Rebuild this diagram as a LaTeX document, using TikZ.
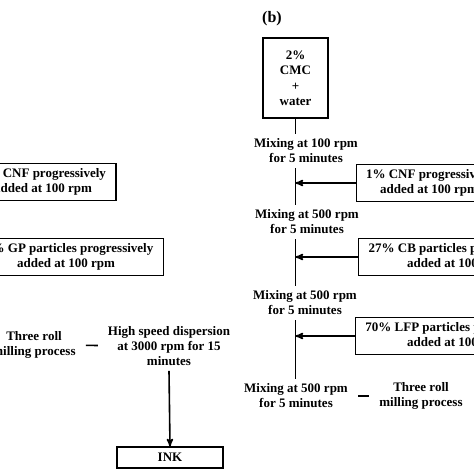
\documentclass[tikz,border=0pt]{standalone}
\usepackage{fontspec}
\setmainfont{Liberation Serif}
\usepackage{tikz}
\usetikzlibrary{arrows}

\begin{document}
\begin{tikzpicture}[x=1pt, y=-1pt,
		every node/.style={font=\fontsize{13}{15}\selectfont\bfseries, align=center},
		txt/.style={inner xsep=10pt, inner ysep=5pt},
		box/.style={rectangle, draw, line width=1.1pt, inner xsep=10pt, inner ysep=5pt},
		link/.style={line width=1.6pt},
		feed/.style={line width=1.6pt, ->, >=stealth'}]
		\useasboundingbox (0, 0) rectangle (474, 474);
		\clip (0, 0) rectangle (474, 474);

		% left panel, cut at the border
		\node[box] (cnfa) at (43, 182) {1\% CNF progressively\\added at 100 rpm};
		\node[box] (gpa) at (66, 257) {27\% GP particles progressively\\added at 100 rpm};
		\node[txt] (rolla) at (34, 345) {Three roll\\milling process};
		\node[txt] (speed) at (169, 346) {High speed dispersion\\at 3000 rpm for 15\\minutes};
		\node[box, minimum width=106, minimum height=21, inner ysep=3pt] (ink) at (170, 457.5) {INK};
		\draw[link] (rolla) -- (speed);
		\draw[feed] (speed.south) -- (ink.north);

		% right panel
		\node[font=\fontsize{16}{18}\selectfont\bfseries] (title) at (272, 19) {(b)};
		\node[box, minimum width=65, minimum height=80, font=\fontsize{13}{15.5}\selectfont\bfseries] (cmc) at (295.5, 78) {2\%\\CMC\\+\\water};
		\node[txt] (mixa) at (306, 151) {Mixing at 100 rpm\\for 5 minutes};
		\node[txt] (mixb) at (307, 222) {Mixing at 500 rpm\\for 5 minutes};
		\node[txt] (mixc) at (305, 303) {Mixing at 500 rpm\\for 5 minutes};
		\node[txt] (mixd) at (296, 396) {Mixing at 500 rpm\\for 5 minutes};
		\node[txt] (rollb) at (421, 396) {Three roll\\milling process};
		\node[box] (cnfb) at (429, 183) {1\% CNF progressively\\added at 100 rpm};
		\node[box] (cbb) at (456, 257) {27\% CB particles progressively\\added at 100 rpm};
		\node[box] (lfpb) at (456, 336) {70\% LFP particles progressively\\added at 100 rpm};

		\draw[link] (cmc.south) -- (cmc.south |- mixa.north);
		\draw[link] (mixa.south -| cmc.south) -- (mixb.north -| cmc.south);
		\draw[link] (mixb.south -| cmc.south) -- (mixc.north -| cmc.south);
		\draw[link] (mixc.south -| cmc.south) -- (mixd.north -| cmc.south);
		\draw[feed] (cnfb.west) -- (cnfb.west -| cmc.south);
		\draw[feed] (cbb.west) -- (cbb.west -| cmc.south);
		\draw[feed] (lfpb.west) -- (lfpb.west -| cmc.south);
		\draw[link] (mixd.east) -- (rollb.west);
\end{tikzpicture}
\end{document}
